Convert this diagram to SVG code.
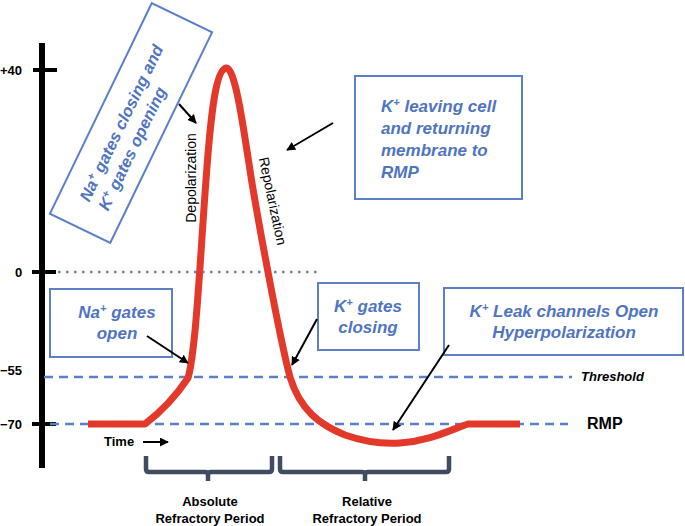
<svg xmlns="http://www.w3.org/2000/svg" width="685" height="526" viewBox="0 0 685 526">
<defs>
<style>
.box{fill:#fff;stroke:#5b80c8;stroke-width:2}
.bt{font-family:"Liberation Sans",Arial,sans-serif;font-weight:bold;font-style:italic;font-size:17px;fill:#4f74c0}
.lbl{font-family:"Liberation Sans",Arial,sans-serif;font-weight:bold;font-size:13px;fill:#000}
.rot{font-family:"Liberation Sans",Arial,sans-serif;font-size:14px;fill:#000}
.arr{stroke:#000;stroke-width:2;fill:none;marker-end:url(#ah)}
.dash{stroke:#5b80c8;stroke-width:2.5;stroke-dasharray:9 6;fill:none}
.brk{stroke:#3f4b5e;stroke-width:4.5;fill:none;stroke-linejoin:round}
</style>
<marker id="ah" viewBox="0 0 10 10" refX="9" refY="5" markerWidth="4.5" markerHeight="4.5" orient="auto" markerUnits="strokeWidth">
<path d="M0,0 L10,5 L0,10 z" fill="#000"/>
</marker>
</defs>
<rect width="685" height="526" fill="#fff"/>

<g id="axis">
<line x1="42" y1="43" x2="42" y2="468" stroke="#000" stroke-width="6"/>
<line x1="33" y1="70" x2="57" y2="70" stroke="#000" stroke-width="4"/>
<line x1="32" y1="272" x2="56" y2="272" stroke="#000" stroke-width="4"/>
<line x1="32" y1="424" x2="56" y2="424" stroke="#000" stroke-width="4"/>
<text class="lbl" x="0" y="75">+40</text>
<text class="lbl" x="15" y="277">0</text>
<text class="lbl" x="0" y="375">−55</text>
<text class="lbl" x="0" y="429">−70</text>
</g>

<g id="reference-lines">
<line x1="58" y1="272" x2="318" y2="272" stroke="#5b80c8" stroke-width="2.5" stroke-dasharray="2.5 5.5"/>
<line class="dash" x1="44" y1="377" x2="572" y2="377"/>
<line class="dash" x1="50" y1="424" x2="568" y2="424"/>
<text class="lbl" x="581" y="381" font-style="italic">Threshold</text>
<text class="lbl" x="587" y="429" style="font-size:16px">RMP</text>
</g>

<g id="action-potential">
<path d="M88,424 L145,424 Q170,405 188,378 C196,350 200,260 206,180 C211,110 216,70 226,68 C236,66 245,140 252,183 C259,225 280,340 290,377 C300,410 320,425 345,435 C365,442 385,444 400,443 C430,441 450,430 468,424 L520,424" fill="none" stroke="#e2392b" stroke-width="7" stroke-linejoin="round"/>
</g>

<g id="phase-labels">
<text class="rot" text-anchor="middle" transform="translate(196,178) rotate(-90)">Depolarization</text>
<text class="rot" text-anchor="middle" transform="translate(268,202) rotate(78)">Repolarization</text>
</g>

<g id="box-na-closing" transform="translate(131,123) rotate(-64.2)">
<rect class="box" x="-117" y="-33.5" width="234" height="67"/>
<text class="bt" x="-90" y="-3" style="font-size:16.5px">Na<tspan font-size="11" dy="-6">+</tspan><tspan dy="6"> gates closing and</tspan></text>
<text class="bt" x="-90" y="18" style="font-size:16.5px">K<tspan font-size="11" dy="-6">+</tspan><tspan dy="6"> gates opening</tspan></text>
</g>

<g id="box-k-leaving">
<rect class="box" x="355" y="76" width="167" height="123"/>
<text class="bt" x="381" y="112">K<tspan font-size="11" dy="-6">+</tspan><tspan dy="6"> leaving cell</tspan></text>
<text class="bt" x="381" y="134">and returning</text>
<text class="bt" x="381" y="156">membrane to</text>
<text class="bt" x="381" y="178">RMP</text>
</g>

<g id="box-na-open">
<rect class="box" x="50" y="289" width="122" height="68"/>
<text class="bt" x="117" y="318" text-anchor="middle">Na<tspan font-size="11" dy="-6">+</tspan><tspan dy="6"> gates</tspan></text>
<text class="bt" x="117" y="339" text-anchor="middle">open</text>
</g>

<g id="box-k-closing">
<rect class="box" x="318" y="283" width="101" height="67"/>
<text class="bt" x="368" y="312" text-anchor="middle">K<tspan font-size="11" dy="-6">+</tspan><tspan dy="6"> gates</tspan></text>
<text class="bt" x="368" y="333" text-anchor="middle">closing</text>
</g>

<g id="box-k-leak">
<rect class="box" x="444" y="288" width="239" height="67"/>
<text class="bt" x="564" y="317" text-anchor="middle">K<tspan font-size="11" dy="-6">+</tspan><tspan dy="6"> Leak channels Open</tspan></text>
<text class="bt" x="564" y="338" text-anchor="middle">Hyperpolarization</text>
</g>

<g id="connectors">
<line class="arr" x1="179" y1="104" x2="196" y2="123"/>
<line class="arr" x1="333" y1="123" x2="287" y2="150"/>
<line class="arr" x1="147" y1="336" x2="188" y2="363"/>
<line class="arr" x1="317" y1="319" x2="292" y2="365"/>
<line class="arr" x1="449" y1="345" x2="393" y2="430"/>
<line class="arr" x1="143" y1="442" x2="168" y2="442"/>
</g>

<g id="time-label">
<text class="lbl" x="104" y="446">Time</text>
</g>

<g id="refractory-periods">
<path class="brk" d="M146,456 L146,469 Q146,472 149,472 L205,472 Q208,472 208,475 L208,481 M208,475 Q208,472 211,472 L269,472 Q272,472 272,469 L272,456"/>
<path class="brk" d="M280,456 L280,469 Q280,472 283,472 L362,472 Q365,472 365,475 L365,481 M365,475 Q365,472 368,472 L446,472 Q449,472 449,469 L449,456"/>
<text class="lbl" x="210" y="506" text-anchor="middle">Absolute</text>
<text class="lbl" x="210" y="523" text-anchor="middle">Refractory Period</text>
<text class="lbl" x="367" y="506" text-anchor="middle">Relative</text>
<text class="lbl" x="367" y="523" text-anchor="middle">Refractory Period</text>
</g>
</svg>
